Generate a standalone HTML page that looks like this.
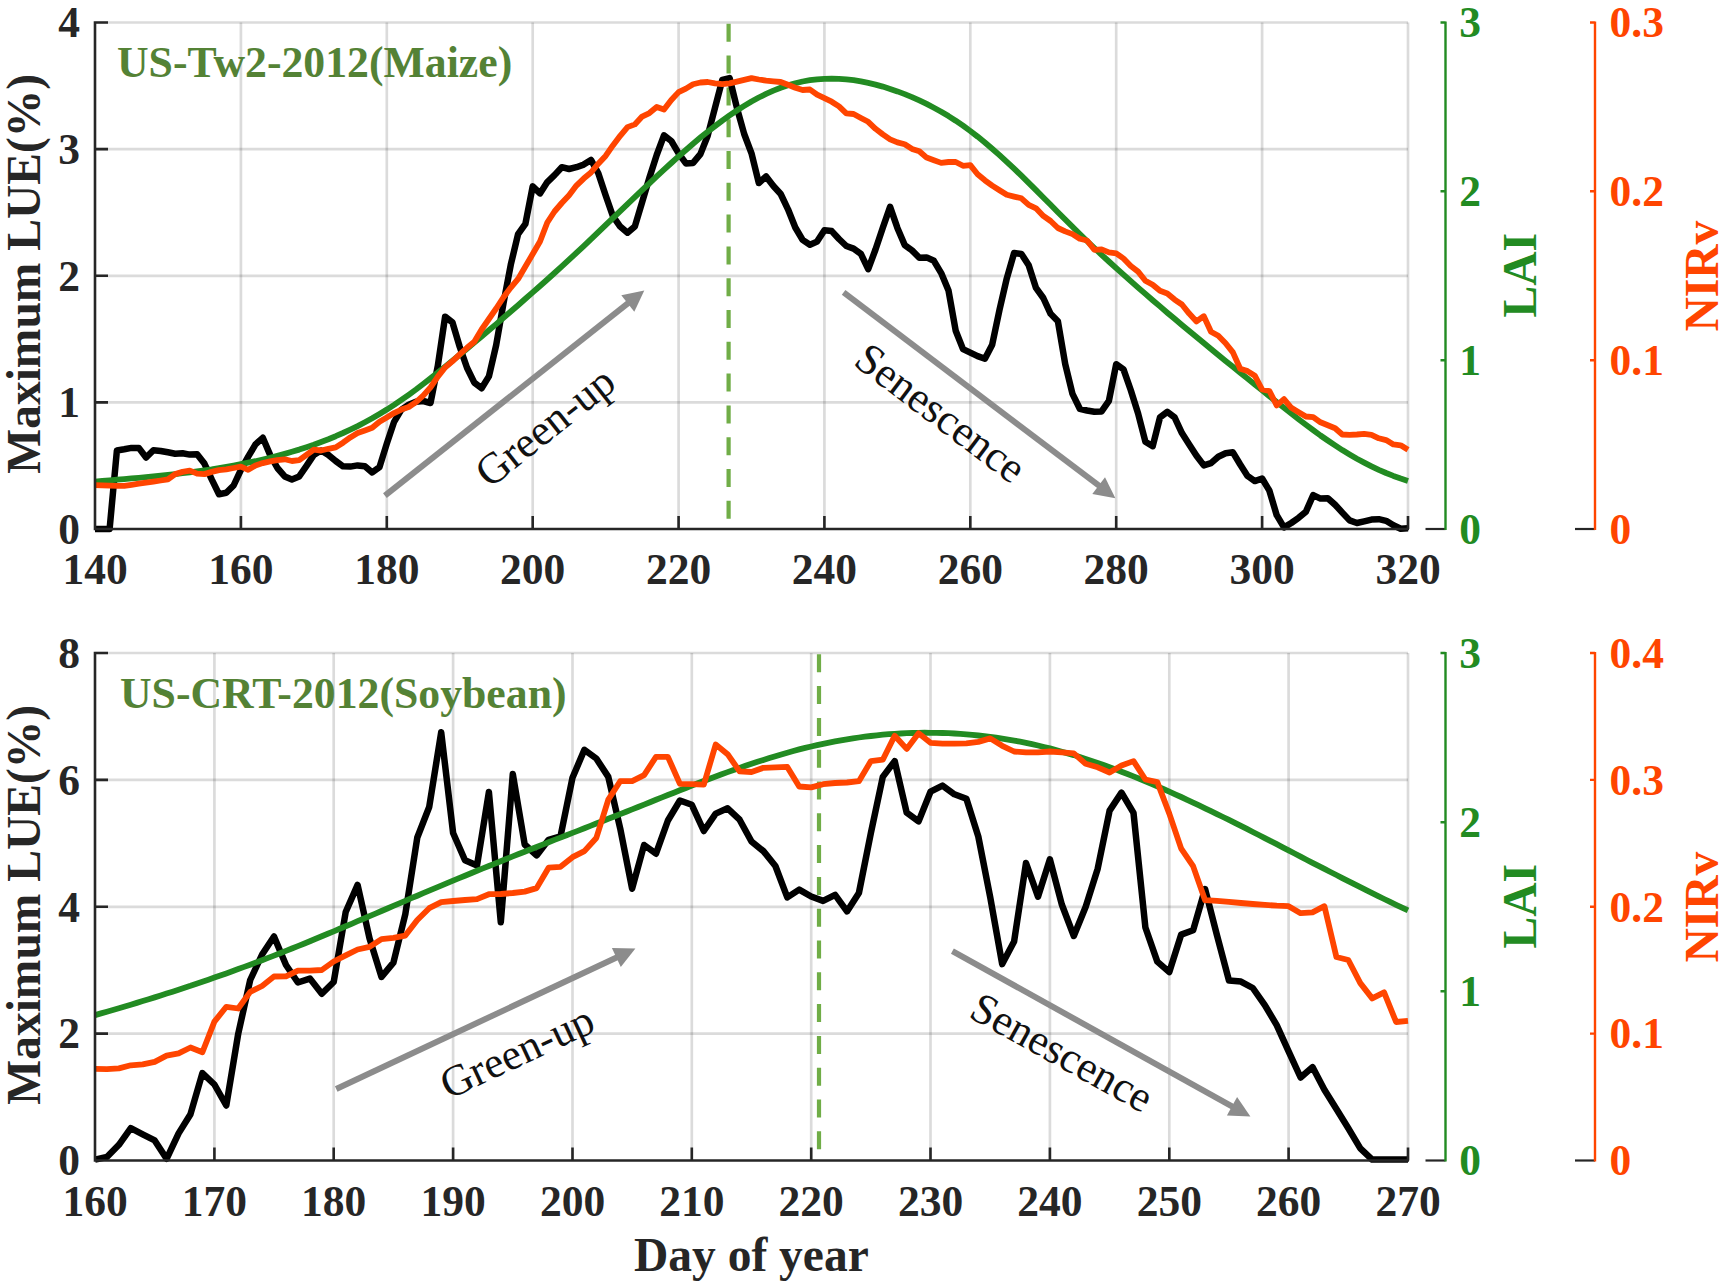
<!DOCTYPE html>
<html lang="en"><head><meta charset="utf-8"><title>Maximum LUE, LAI and NIRv</title>
<style>html,body{margin:0;padding:0;background:#fff}body{width:1724px;height:1288px;overflow:hidden}svg{display:block}</style>
</head><body>
<svg width="1724" height="1288" viewBox="0 0 1724 1288">
<rect width="1724" height="1288" fill="#fff"/>
<g font-family="'Liberation Serif', serif" font-weight="bold" font-size="43.5">
<path d="M240.9 22.5V529.0M386.8 22.5V529.0M532.7 22.5V529.0M678.6 22.5V529.0M824.4 22.5V529.0M970.3 22.5V529.0M1116.2 22.5V529.0M1262.1 22.5V529.0M1408.0 22.5V529.0" stroke="#000" stroke-opacity="0.14" stroke-width="2.7" fill="none"/>
<path d="M95.0 402.4H1408.0M95.0 275.8H1408.0M95.0 149.1H1408.0M95.0 22.5H1408.0" stroke="#000" stroke-opacity="0.14" stroke-width="2.7" fill="none"/>
<path d="M728.6 23.8V521.0" stroke="#70ad47" stroke-width="4.2" stroke-dasharray="18 13.8" fill="none"/>
<path d="M95.0 529.0L102.3 529.0L109.6 529.0L116.9 450.5L124.2 449.3L131.5 447.9L138.8 447.9L146.1 457.5L153.4 450.2L160.7 451.0L167.9 452.3L175.2 453.7L182.5 453.3L189.8 454.6L197.1 454.2L204.4 463.6L211.7 479.4L219.0 494.2L226.3 492.8L233.6 485.5L240.9 469.8L248.2 456.7L255.5 444.4L262.8 437.8L270.1 454.9L277.4 468.0L284.7 476.4L291.9 479.4L299.2 476.4L306.5 465.9L313.8 454.9L321.1 450.5L328.4 454.9L335.7 461.0L343.0 466.3L350.3 466.6L357.6 465.4L364.9 466.3L372.2 472.4L379.5 467.1L386.8 443.6L394.1 421.8L401.4 409.6L408.7 404.8L416.0 401.8L423.2 401.0L430.5 403.0L437.8 366.0L445.1 316.7L452.4 322.3L459.7 346.8L467.0 367.7L474.3 382.6L481.6 388.3L488.9 376.4L496.2 345.0L503.5 303.1L510.8 264.6L518.1 234.1L525.4 223.8L532.7 186.4L540.0 193.4L547.3 182.1L554.5 175.1L561.8 167.2L569.1 169.0L576.4 167.2L583.7 164.6L591.0 159.9L598.3 173.3L605.6 195.2L612.9 216.2L620.2 226.6L627.5 232.7L634.8 226.6L642.1 202.2L649.4 177.7L656.7 155.0L664.0 135.4L671.3 141.0L678.6 153.3L685.9 163.4L693.1 162.9L700.4 154.1L707.7 135.8L715.0 107.8L722.3 79.9L729.6 78.1L736.9 107.8L744.2 134.0L751.5 153.3L758.8 183.0L766.1 176.5L773.4 186.0L780.7 194.0L788.0 209.3L795.3 227.5L802.6 239.9L809.9 244.8L817.1 241.6L824.4 230.3L831.7 231.1L839.0 239.0L846.3 246.0L853.6 248.6L860.9 253.9L868.2 269.2L875.5 249.5L882.8 227.7L890.1 206.9L897.4 227.9L904.7 245.1L912.0 250.4L919.3 257.7L926.6 257.4L933.9 260.8L941.2 273.1L948.5 290.5L955.7 330.7L963.0 349.1L970.3 352.6L977.6 356.1L984.9 358.7L992.2 344.7L999.5 309.8L1006.8 278.3L1014.1 253.0L1021.4 253.9L1028.7 265.2L1036.0 287.9L1043.3 298.0L1050.6 313.8L1057.9 321.2L1065.2 364.0L1072.5 393.9L1079.8 408.8L1087.0 410.5L1094.3 411.7L1101.6 411.4L1108.9 400.9L1116.2 364.2L1123.5 369.4L1130.8 390.3L1138.1 413.5L1145.4 441.8L1152.7 446.2L1160.0 417.4L1167.3 411.8L1174.6 417.4L1181.9 433.1L1189.2 444.4L1196.5 455.8L1203.8 465.4L1211.0 463.1L1218.3 456.7L1225.6 453.2L1232.9 452.3L1240.2 464.5L1247.5 475.9L1254.8 481.1L1262.1 478.5L1269.4 490.7L1276.7 515.2L1284.0 527.4L1291.3 523.0L1298.6 517.8L1305.9 511.7L1313.2 495.1L1320.5 498.6L1327.8 498.2L1335.1 504.7L1342.3 512.6L1349.6 520.4L1356.9 523.0L1364.2 521.3L1371.5 519.6L1378.8 519.2L1386.1 520.8L1393.4 525.3L1400.7 528.8L1408.0 528.3" stroke="#000" stroke-width="6.5" fill="none" stroke-linejoin="round" stroke-linecap="butt"/>
<path d="M95.0 481.6L102.3 481.0L109.6 480.3L116.9 479.7L124.2 479.1L131.5 478.4L138.8 477.8L146.1 477.1L153.4 476.4L160.7 475.6L167.9 474.9L175.2 474.1L182.5 473.2L189.8 472.3L197.1 471.3L204.4 470.3L211.7 469.3L219.0 468.1L226.3 466.9L233.6 465.6L240.9 464.2L248.2 462.7L255.5 461.2L262.8 459.5L270.1 457.8L277.4 455.9L284.7 453.9L291.9 451.8L299.2 449.6L306.5 447.2L313.8 444.7L321.1 442.0L328.4 439.2L335.7 436.2L343.0 433.0L350.3 429.6L357.6 426.1L364.9 422.3L372.2 418.3L379.5 414.0L386.8 409.6L394.1 404.9L401.4 399.9L408.7 394.8L416.0 389.5L423.2 384.0L430.5 378.4L437.8 372.6L445.1 366.7L452.4 360.8L459.7 354.8L467.0 348.7L474.3 342.6L481.6 336.5L488.9 330.3L496.2 324.1L503.5 317.8L510.8 311.5L518.1 305.2L525.4 298.8L532.7 292.4L540.0 286.0L547.3 279.5L554.5 273.0L561.8 266.4L569.1 259.7L576.4 252.9L583.7 246.1L591.0 239.2L598.3 232.2L605.6 225.2L612.9 218.2L620.2 211.2L627.5 204.2L634.8 197.2L642.1 190.2L649.4 183.3L656.7 176.4L664.0 169.7L671.3 163.0L678.6 156.4L685.9 150.0L693.1 143.7L700.4 137.6L707.7 131.7L715.0 126.1L722.3 120.6L729.6 115.4L736.9 110.5L744.2 105.9L751.5 101.5L758.8 97.5L766.1 93.9L773.4 90.6L780.7 87.7L788.0 85.2L795.3 83.2L802.6 81.5L809.9 80.2L817.1 79.3L824.4 78.8L831.7 78.7L839.0 78.9L846.3 79.4L853.6 80.2L860.9 81.4L868.2 82.9L875.5 84.6L882.8 86.6L890.1 88.9L897.4 91.4L904.7 94.1L912.0 97.1L919.3 100.4L926.6 103.9L933.9 107.7L941.2 111.7L948.5 116.1L955.7 120.7L963.0 125.7L970.3 131.0L977.6 136.6L984.9 142.5L992.2 148.7L999.5 155.1L1006.8 161.8L1014.1 168.7L1021.4 175.7L1028.7 182.9L1036.0 190.1L1043.3 197.5L1050.6 204.8L1057.9 212.2L1065.2 219.5L1072.5 226.8L1079.8 234.0L1087.0 241.0L1094.3 248.0L1101.6 254.8L1108.9 261.5L1116.2 268.2L1123.5 274.7L1130.8 281.2L1138.1 287.6L1145.4 293.9L1152.7 300.2L1160.0 306.4L1167.3 312.7L1174.6 318.8L1181.9 324.9L1189.2 331.0L1196.5 337.0L1203.8 343.0L1211.0 349.0L1218.3 355.0L1225.6 360.9L1232.9 366.8L1240.2 372.7L1247.5 378.6L1254.8 384.4L1262.1 390.3L1269.4 396.2L1276.7 402.0L1284.0 407.8L1291.3 413.6L1298.6 419.2L1305.9 424.8L1313.2 430.2L1320.5 435.5L1327.8 440.5L1335.1 445.4L1342.3 450.1L1349.6 454.5L1356.9 458.7L1364.2 462.6L1371.5 466.3L1378.8 469.8L1386.1 473.0L1393.4 475.9L1400.7 478.5L1408.0 480.9" stroke="#228b22" stroke-width="5.8" fill="none" stroke-linejoin="round" stroke-linecap="butt"/>
<path d="M95.0 485.1L102.3 485.4L109.6 485.6L116.9 485.8L124.2 485.8L131.5 484.8L138.8 483.7L146.1 482.7L153.4 481.6L160.7 480.5L167.9 479.4L175.2 474.1L182.5 471.9L189.8 470.6L197.1 473.6L204.4 474.1L211.7 471.9L219.0 470.1L226.3 469.4L233.6 468.0L240.9 466.6L248.2 469.8L255.5 465.4L262.8 463.1L270.1 461.4L277.4 460.2L284.7 459.3L291.9 461.0L299.2 460.2L306.5 454.9L313.8 449.7L321.1 450.5L328.4 448.8L335.7 447.4L343.0 442.7L350.3 437.4L357.6 433.1L364.9 430.5L372.2 427.8L379.5 421.7L386.8 417.5L394.1 413.1L401.4 409.6L408.7 407.0L416.0 402.2L423.2 395.7L430.5 387.4L437.8 376.6L445.1 367.4L452.4 361.3L459.7 354.4L467.0 347.8L474.3 341.7L481.6 329.5L488.9 319.0L496.2 308.5L503.5 297.2L510.8 287.6L518.1 278.9L525.4 266.6L532.7 254.0L540.0 241.5L547.3 222.5L554.5 211.5L561.8 203.0L569.1 195.2L576.4 185.6L583.7 178.6L591.0 172.5L598.3 163.7L605.6 155.9L612.9 145.4L620.2 135.8L627.5 127.1L634.8 124.4L642.1 116.6L649.4 113.1L656.7 107.0L664.0 109.6L671.3 100.0L678.6 92.1L685.9 88.6L693.1 84.2L700.4 82.5L707.7 82.0L715.0 83.4L722.3 84.2L729.6 83.4L736.9 81.6L744.2 79.9L751.5 78.1L758.8 79.5L766.1 80.6L773.4 81.3L780.7 82.0L788.0 84.8L795.3 87.7L802.6 90.0L809.9 89.5L817.1 94.7L824.4 98.2L831.7 101.7L839.0 106.4L846.3 113.4L853.6 114.0L860.9 118.0L868.2 121.8L875.5 128.8L882.8 134.4L890.1 139.3L897.4 142.4L904.7 144.2L912.0 148.9L919.3 151.2L926.6 157.6L933.9 160.2L941.2 162.9L948.5 162.0L955.7 162.0L963.0 165.8L970.3 165.1L977.6 174.2L984.9 180.3L992.2 185.6L999.5 190.3L1006.8 194.8L1014.1 196.6L1021.4 198.3L1028.7 204.8L1036.0 208.3L1043.3 215.9L1050.6 221.0L1057.9 228.0L1065.2 231.4L1072.5 234.1L1079.8 238.8L1087.0 240.5L1094.3 249.8L1101.6 249.4L1108.9 252.4L1116.2 253.3L1123.5 258.5L1130.8 266.0L1138.1 271.6L1145.4 280.7L1152.7 284.7L1160.0 290.8L1167.3 293.5L1174.6 299.6L1181.9 304.5L1189.2 313.6L1196.5 321.4L1203.8 316.2L1211.0 331.8L1218.3 335.8L1225.6 343.2L1232.9 352.4L1240.2 368.7L1247.5 371.1L1254.8 375.7L1262.1 389.5L1269.4 391.0L1276.7 405.4L1284.0 399.1L1291.3 407.8L1298.6 412.2L1305.9 416.5L1313.2 417.2L1320.5 422.3L1327.8 425.3L1335.1 428.2L1342.3 434.5L1349.6 434.8L1356.9 434.5L1364.2 433.9L1371.5 434.8L1378.8 438.3L1386.1 440.1L1393.4 444.4L1400.7 445.3L1408.0 449.7" stroke="#ff4500" stroke-width="5.8" fill="none" stroke-linejoin="round" stroke-linecap="butt"/>
<path d="M95.0 21.3V529.0H1409.0M240.9 529.0V516.0M386.8 529.0V516.0M532.7 529.0V516.0M678.6 529.0V516.0M824.4 529.0V516.0M970.3 529.0V516.0M1116.2 529.0V516.0M1262.1 529.0V516.0M1408.0 529.0V516.0M95.0 402.4H108.0M95.0 275.8H108.0M95.0 149.1H108.0M95.0 22.5H108.0" stroke="#262626" stroke-width="2.6" fill="none"/>
<text x="95.0" y="584.0" text-anchor="middle" fill="#262626">140</text>
<text x="240.9" y="584.0" text-anchor="middle" fill="#262626">160</text>
<text x="386.8" y="584.0" text-anchor="middle" fill="#262626">180</text>
<text x="532.7" y="584.0" text-anchor="middle" fill="#262626">200</text>
<text x="678.6" y="584.0" text-anchor="middle" fill="#262626">220</text>
<text x="824.4" y="584.0" text-anchor="middle" fill="#262626">240</text>
<text x="970.3" y="584.0" text-anchor="middle" fill="#262626">260</text>
<text x="1116.2" y="584.0" text-anchor="middle" fill="#262626">280</text>
<text x="1262.1" y="584.0" text-anchor="middle" fill="#262626">300</text>
<text x="1408.0" y="584.0" text-anchor="middle" fill="#262626">320</text>
<text x="80.0" y="543.8" text-anchor="end" fill="#262626">0</text>
<text x="80.0" y="417.2" text-anchor="end" fill="#262626">1</text>
<text x="80.0" y="290.6" text-anchor="end" fill="#262626">2</text>
<text x="80.0" y="163.9" text-anchor="end" fill="#262626">3</text>
<text x="80.0" y="37.3" text-anchor="end" fill="#262626">4</text>
<path d="M1425.5 529.0H1445.5" stroke="#262626" stroke-width="2.2" fill="none"/>
<path d="M1445.5 530.0V21.5M1445.5 360.2h-5M1445.5 191.3h-5M1445.5 22.5h-5" stroke="#228b22" stroke-width="2.4" fill="none"/>
<text x="1459.3" y="543.8" fill="#228b22">0</text>
<text x="1459.3" y="375.0" fill="#228b22">1</text>
<text x="1459.3" y="206.1" fill="#228b22">2</text>
<text x="1459.3" y="37.3" fill="#228b22">3</text>
<path d="M1575.0 529.0H1595.0" stroke="#262626" stroke-width="2.2" fill="none"/>
<path d="M1595.0 530.0V21.5M1595.0 360.2h-5M1595.0 191.3h-5M1595.0 22.5h-5" stroke="#ff4500" stroke-width="2.4" fill="none"/>
<text x="1609.5" y="543.8" fill="#ff4500">0</text>
<text x="1609.5" y="375.0" fill="#ff4500">0.1</text>
<text x="1609.5" y="206.1" fill="#ff4500">0.2</text>
<text x="1609.5" y="37.3" fill="#ff4500">0.3</text>
<text transform="translate(40.0 273.8) rotate(-90)" text-anchor="middle" font-size="47.5" fill="#262626">Maximum LUE(%)</text>
<text transform="translate(1535.5 275.2) rotate(-90)" text-anchor="middle" font-size="47.5" fill="#228b22">LAI</text>
<text transform="translate(1718.0 276.2) rotate(-90)" text-anchor="middle" font-size="47.5" fill="#ff4500">NIRv</text>
<text x="117.0" y="77.4" font-size="43.75" fill="#548235">US-Tw2-2012(Maize)</text>
<path d="M384.9 495.7L629.4 302.2" stroke="#8c8c8c" stroke-width="6" fill="none"/>
<path d="M644.3 290.4L634.3 311.7L621.3 295.2Z" fill="#8c8c8c"/>
<path d="M843.6 292.4L1100.3 486.7" stroke="#8c8c8c" stroke-width="6" fill="none"/>
<path d="M1115.4 498.2L1092.3 493.9L1105.0 477.2Z" fill="#8c8c8c"/>
<text transform="translate(554.0 438.0) rotate(-38.4)" text-anchor="middle" font-weight="normal" font-size="43.5" fill="#111">Green-up</text>
<text transform="translate(932.0 424.5) rotate(37.1)" text-anchor="middle" font-weight="normal" font-size="43.5" fill="#111">Senescence</text>
</g>
<g font-family="'Liberation Serif', serif" font-weight="bold" font-size="43.5">
<path d="M214.4 653.0V1160.5M333.7 653.0V1160.5M453.1 653.0V1160.5M572.5 653.0V1160.5M691.8 653.0V1160.5M811.2 653.0V1160.5M930.5 653.0V1160.5M1049.9 653.0V1160.5M1169.3 653.0V1160.5M1288.6 653.0V1160.5M1408.0 653.0V1160.5" stroke="#000" stroke-opacity="0.14" stroke-width="2.7" fill="none"/>
<path d="M95.0 1033.6H1408.0M95.0 906.8H1408.0M95.0 779.9H1408.0M95.0 653.0H1408.0" stroke="#000" stroke-opacity="0.14" stroke-width="2.7" fill="none"/>
<path d="M819.0 654.3V1152.5" stroke="#70ad47" stroke-width="4.2" stroke-dasharray="18 13.8" fill="none"/>
<path d="M95.0 1159.6L106.9 1157.0L118.9 1144.8L130.8 1128.2L142.7 1134.3L154.7 1140.4L166.6 1158.8L178.6 1133.4L190.5 1114.2L202.4 1073.2L214.4 1084.5L226.3 1105.5L238.2 1033.9L250.2 980.0L262.1 954.5L274.0 936.5L286.0 965.0L297.9 982.5L309.9 978.6L321.8 993.7L333.7 982.0L345.7 912.0L357.6 884.9L369.5 938.2L381.5 977.0L393.4 962.7L405.3 914.3L417.3 837.5L429.2 807.0L441.2 732.3L453.1 833.0L465.0 860.2L477.0 865.4L488.9 792.0L500.8 922.2L512.8 774.1L524.7 844.5L536.6 855.4L548.6 839.8L560.5 836.3L572.5 777.7L584.4 749.8L596.3 758.5L608.3 776.9L620.2 828.4L632.1 888.7L644.1 845.0L656.0 853.7L667.9 820.5L679.9 800.5L691.8 804.8L703.8 831.0L715.7 813.6L727.6 808.3L739.6 819.7L751.5 841.5L763.4 851.1L775.4 866.0L787.3 897.4L799.2 889.6L811.2 896.5L823.1 900.9L835.1 894.8L847.0 911.4L858.9 893.0L870.9 832.8L882.8 776.9L894.7 761.1L906.7 812.7L918.6 821.4L930.5 791.7L942.5 785.6L954.4 794.3L966.4 798.7L978.3 836.5L990.2 897.2L1002.2 964.1L1014.1 941.4L1026.0 863.0L1038.0 896.7L1049.9 859.3L1061.8 904.5L1073.8 936.0L1085.7 906.8L1097.7 868.7L1109.6 810.6L1121.5 792.6L1133.5 812.8L1145.4 927.5L1157.3 961.6L1169.3 972.1L1181.2 934.6L1193.1 930.3L1205.1 889.0L1217.0 935.4L1229.0 980.6L1240.9 981.6L1252.8 988.0L1264.8 1005.1L1276.7 1025.1L1288.6 1051.3L1300.6 1077.5L1312.5 1067.1L1324.4 1089.8L1336.4 1109.0L1348.3 1128.2L1360.3 1148.3L1372.2 1159.6L1384.1 1159.6L1396.1 1159.6L1408.0 1159.6" stroke="#000" stroke-width="6.5" fill="none" stroke-linejoin="round" stroke-linecap="butt"/>
<path d="M95.0 1015.1L101.0 1013.4L106.9 1011.7L112.9 1010.0L118.9 1008.3L124.8 1006.5L130.8 1004.7L136.8 1002.9L142.7 1001.1L148.7 999.2L154.7 997.4L160.7 995.5L166.6 993.6L172.6 991.7L178.6 989.7L184.5 987.7L190.5 985.8L196.5 983.7L202.4 981.7L208.4 979.7L214.4 977.6L220.3 975.5L226.3 973.4L232.3 971.2L238.2 969.1L244.2 966.9L250.2 964.7L256.1 962.4L262.1 960.2L268.1 957.9L274.0 955.6L280.0 953.2L286.0 950.9L291.9 948.5L297.9 946.1L303.9 943.7L309.9 941.2L315.8 938.8L321.8 936.3L327.8 933.8L333.7 931.3L339.7 928.8L345.7 926.3L351.6 923.8L357.6 921.2L363.6 918.7L369.5 916.1L375.5 913.6L381.5 911.0L387.4 908.5L393.4 905.9L399.4 903.3L405.3 900.8L411.3 898.2L417.3 895.7L423.2 893.2L429.2 890.6L435.2 888.1L441.2 885.6L447.1 883.1L453.1 880.6L459.1 878.1L465.0 875.7L471.0 873.2L477.0 870.8L482.9 868.4L488.9 866.0L494.9 863.6L500.8 861.2L506.8 858.8L512.8 856.4L518.7 854.0L524.7 851.7L530.7 849.3L536.6 847.0L542.6 844.6L548.6 842.3L554.5 839.9L560.5 837.6L566.5 835.2L572.5 832.9L578.4 830.6L584.4 828.2L590.4 825.9L596.3 823.5L602.3 821.2L608.3 818.8L614.2 816.5L620.2 814.1L626.2 811.7L632.1 809.4L638.1 807.0L644.1 804.6L650.0 802.2L656.0 799.8L662.0 797.4L667.9 795.0L673.9 792.7L679.9 790.3L685.9 788.0L691.8 785.6L697.8 783.3L703.8 781.0L709.7 778.7L715.7 776.5L721.7 774.3L727.6 772.1L733.6 770.0L739.6 767.9L745.5 765.8L751.5 763.8L757.5 761.8L763.4 759.9L769.4 758.0L775.4 756.2L781.3 754.4L787.3 752.7L793.3 751.0L799.2 749.4L805.2 747.9L811.2 746.5L817.1 745.1L823.1 743.8L829.1 742.6L835.1 741.4L841.0 740.3L847.0 739.3L853.0 738.4L858.9 737.5L864.9 736.7L870.9 736.0L876.8 735.3L882.8 734.7L888.8 734.2L894.7 733.8L900.7 733.5L906.7 733.2L912.6 733.0L918.6 732.8L924.6 732.7L930.5 732.8L936.5 732.8L942.5 733.0L948.5 733.2L954.4 733.5L960.4 733.9L966.4 734.4L972.3 734.9L978.3 735.5L984.3 736.1L990.2 736.9L996.2 737.7L1002.2 738.6L1008.1 739.6L1014.1 740.6L1020.1 741.7L1026.0 742.9L1032.0 744.2L1038.0 745.5L1043.9 747.0L1049.9 748.4L1055.9 750.0L1061.8 751.7L1067.8 753.4L1073.8 755.1L1079.8 757.0L1085.7 758.9L1091.7 760.9L1097.7 762.9L1103.6 765.0L1109.6 767.2L1115.6 769.4L1121.5 771.7L1127.5 774.0L1133.5 776.4L1139.4 778.8L1145.4 781.3L1151.4 783.8L1157.3 786.4L1163.3 789.0L1169.3 791.6L1175.2 794.3L1181.2 797.0L1187.2 799.8L1193.1 802.6L1199.1 805.4L1205.1 808.3L1211.0 811.1L1217.0 814.1L1223.0 817.0L1229.0 819.9L1234.9 822.9L1240.9 825.9L1246.9 828.9L1252.8 832.0L1258.8 835.0L1264.8 838.1L1270.7 841.1L1276.7 844.2L1282.7 847.3L1288.6 850.4L1294.6 853.5L1300.6 856.6L1306.5 859.7L1312.5 862.8L1318.5 865.8L1324.4 868.9L1330.4 872.0L1336.4 875.0L1342.3 878.1L1348.3 881.1L1354.3 884.2L1360.3 887.2L1366.2 890.2L1372.2 893.1L1378.2 896.1L1384.1 899.0L1390.1 901.9L1396.1 904.8L1402.0 907.6L1408.0 910.4" stroke="#228b22" stroke-width="5.8" fill="none" stroke-linejoin="round" stroke-linecap="butt"/>
<path d="M95.0 1068.8L106.9 1069.1L118.9 1068.4L130.8 1065.3L142.7 1064.4L154.7 1061.8L166.6 1055.7L178.6 1053.4L190.5 1047.5L202.4 1052.2L214.4 1021.6L226.3 1006.8L238.2 1008.5L250.2 991.9L262.1 986.0L274.0 976.5L286.0 976.4L297.9 970.7L309.9 970.7L321.8 970.0L333.7 961.5L345.7 955.4L357.6 949.5L369.5 946.9L381.5 939.1L393.4 937.8L405.3 935.6L417.3 920.0L429.2 908.2L441.2 902.1L453.1 901.0L465.0 900.0L477.0 899.1L488.9 894.2L500.8 894.0L512.8 893.0L524.7 891.6L536.6 888.1L548.6 867.7L560.5 866.8L572.5 857.2L584.4 851.1L596.3 838.0L608.3 799.6L620.2 781.2L632.1 781.2L644.1 775.1L656.0 756.8L667.9 756.8L679.9 783.9L691.8 784.2L703.8 784.7L715.7 744.5L727.6 754.2L739.6 771.3L751.5 772.0L763.4 767.8L775.4 767.3L787.3 766.9L799.2 786.5L811.2 787.4L823.1 784.2L835.1 783.0L847.0 782.5L858.9 781.2L870.9 761.1L882.8 759.7L894.7 735.8L906.7 748.9L918.6 733.2L930.5 742.8L942.5 743.7L954.4 743.7L966.4 743.3L978.3 741.9L990.2 738.4L1002.2 745.8L1014.1 751.5L1026.0 752.4L1038.0 752.4L1049.9 751.5L1061.8 752.4L1073.8 753.3L1085.7 763.8L1097.7 767.3L1109.6 772.5L1121.5 765.5L1133.5 761.1L1145.4 779.5L1157.3 782.1L1169.3 813.6L1181.2 848.6L1193.1 866.1L1205.1 900.2L1217.0 900.9L1229.0 901.9L1240.9 903.0L1252.8 904.0L1264.8 904.9L1276.7 905.7L1288.6 906.2L1300.6 913.2L1312.5 912.3L1324.4 906.2L1336.4 957.0L1348.3 960.0L1360.3 983.1L1372.2 998.4L1384.1 992.3L1396.1 1022.0L1408.0 1020.8" stroke="#ff4500" stroke-width="5.8" fill="none" stroke-linejoin="round" stroke-linecap="butt"/>
<path d="M95.0 651.8V1160.5H1409.0M214.4 1160.5V1147.5M333.7 1160.5V1147.5M453.1 1160.5V1147.5M572.5 1160.5V1147.5M691.8 1160.5V1147.5M811.2 1160.5V1147.5M930.5 1160.5V1147.5M1049.9 1160.5V1147.5M1169.3 1160.5V1147.5M1288.6 1160.5V1147.5M1408.0 1160.5V1147.5M95.0 1033.6H108.0M95.0 906.8H108.0M95.0 779.9H108.0M95.0 653.0H108.0" stroke="#262626" stroke-width="2.6" fill="none"/>
<text x="95.0" y="1215.5" text-anchor="middle" fill="#262626">160</text>
<text x="214.4" y="1215.5" text-anchor="middle" fill="#262626">170</text>
<text x="333.7" y="1215.5" text-anchor="middle" fill="#262626">180</text>
<text x="453.1" y="1215.5" text-anchor="middle" fill="#262626">190</text>
<text x="572.5" y="1215.5" text-anchor="middle" fill="#262626">200</text>
<text x="691.8" y="1215.5" text-anchor="middle" fill="#262626">210</text>
<text x="811.2" y="1215.5" text-anchor="middle" fill="#262626">220</text>
<text x="930.5" y="1215.5" text-anchor="middle" fill="#262626">230</text>
<text x="1049.9" y="1215.5" text-anchor="middle" fill="#262626">240</text>
<text x="1169.3" y="1215.5" text-anchor="middle" fill="#262626">250</text>
<text x="1288.6" y="1215.5" text-anchor="middle" fill="#262626">260</text>
<text x="1408.0" y="1215.5" text-anchor="middle" fill="#262626">270</text>
<text x="80.0" y="1175.3" text-anchor="end" fill="#262626">0</text>
<text x="80.0" y="1048.4" text-anchor="end" fill="#262626">2</text>
<text x="80.0" y="921.5" text-anchor="end" fill="#262626">4</text>
<text x="80.0" y="794.7" text-anchor="end" fill="#262626">6</text>
<text x="80.0" y="667.8" text-anchor="end" fill="#262626">8</text>
<path d="M1425.5 1160.5H1445.5" stroke="#262626" stroke-width="2.2" fill="none"/>
<path d="M1445.5 1161.5V652.0M1445.5 991.3h-5M1445.5 822.2h-5M1445.5 653.0h-5" stroke="#228b22" stroke-width="2.4" fill="none"/>
<text x="1459.3" y="1175.3" fill="#228b22">0</text>
<text x="1459.3" y="1006.1" fill="#228b22">1</text>
<text x="1459.3" y="837.0" fill="#228b22">2</text>
<text x="1459.3" y="667.8" fill="#228b22">3</text>
<path d="M1575.0 1160.5H1595.0" stroke="#262626" stroke-width="2.2" fill="none"/>
<path d="M1595.0 1161.5V652.0M1595.0 1033.6h-5M1595.0 906.8h-5M1595.0 779.9h-5M1595.0 653.0h-5" stroke="#ff4500" stroke-width="2.4" fill="none"/>
<text x="1609.5" y="1175.3" fill="#ff4500">0</text>
<text x="1609.5" y="1048.4" fill="#ff4500">0.1</text>
<text x="1609.5" y="921.5" fill="#ff4500">0.2</text>
<text x="1609.5" y="794.7" fill="#ff4500">0.3</text>
<text x="1609.5" y="667.8" fill="#ff4500">0.4</text>
<text transform="translate(40.0 904.8) rotate(-90)" text-anchor="middle" font-size="47.5" fill="#262626">Maximum LUE(%)</text>
<text transform="translate(1535.5 906.2) rotate(-90)" text-anchor="middle" font-size="47.5" fill="#228b22">LAI</text>
<text transform="translate(1718.0 907.2) rotate(-90)" text-anchor="middle" font-size="47.5" fill="#ff4500">NIRv</text>
<text x="120.0" y="707.8" font-size="43.75" fill="#548235">US-CRT-2012(Soybean)</text>
<path d="M336.2 1089.0L618.2 956.7" stroke="#8c8c8c" stroke-width="6" fill="none"/>
<path d="M635.4 948.6L620.8 967.0L611.9 948.0Z" fill="#8c8c8c"/>
<path d="M952.4 951.1L1233.8 1107.3" stroke="#8c8c8c" stroke-width="6" fill="none"/>
<path d="M1250.4 1116.5L1226.9 1115.5L1237.1 1097.1Z" fill="#8c8c8c"/>
<text transform="translate(523.0 1065.0) rotate(-25.1)" text-anchor="middle" font-weight="normal" font-size="43.5" fill="#111">Green-up</text>
<text transform="translate(1055.0 1065.0) rotate(29)" text-anchor="middle" font-weight="normal" font-size="43.5" fill="#111">Senescence</text>
</g>
<text x="751.4" y="1270.5" text-anchor="middle" font-family="'Liberation Serif', serif" font-weight="bold" font-size="47.5" fill="#262626">Day of year</text>
</svg>
</body></html>
